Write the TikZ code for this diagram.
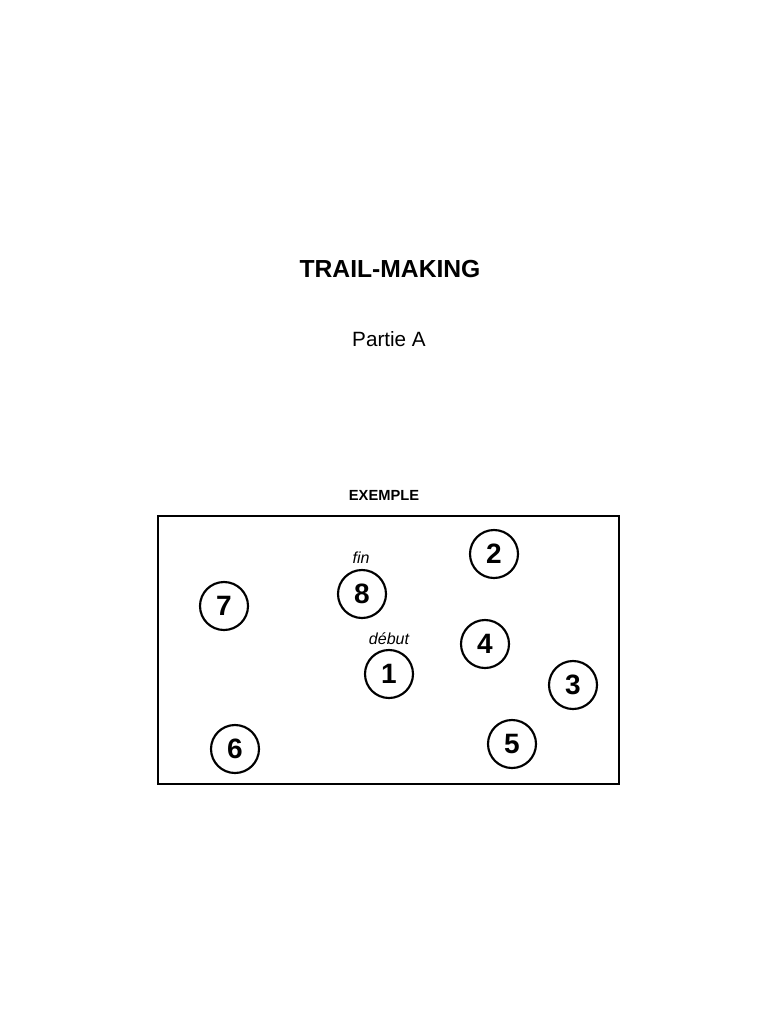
\documentclass[tikz,border=0pt]{standalone}
\usepackage{fontspec}
\setmainfont{Liberation Sans}
\begin{document}
\begin{tikzpicture}[x=0.75pt,y=-0.75pt,
  num/.style={circle,draw,line width=1.6pt,minimum size=36pt,inner sep=0pt,font=\fontsize{21}{21}\selectfont\bfseries},
  lbl/.style={font=\fontsize{12}{12}\selectfont\itshape}]
\useasboundingbox (0,0) rectangle (768,1024);
\node[font=\fontsize{18.5}{18.5}\selectfont\bfseries] (title) at (390,269) {TRAIL-MAKING};
\node[font=\fontsize{15.5}{15.5}\selectfont] (sub) at (389,339) {Partie A};
\node[font=\fontsize{11}{11}\selectfont\bfseries] (ex) at (384,495) {EXEMPLE};
\draw[line width=1.5pt] (158,516) rectangle (619,784);
\node[num] (n1) at (389,674) {1};
\node[num] (n2) at (494,554) {2};
\node[num] (n3) at (573,685) {3};
\node[num] (n4) at (485,644) {4};
\node[num] (n5) at (512,744) {5};
\node[num] (n6) at (235,749) {6};
\node[num] (n7) at (224,606) {7};
\node[num] (n8) at (362,594) {8};
\node[lbl] (fin) at (361,558) {fin};
\node[lbl] (debut) at (389,639) {début};
\end{tikzpicture}
\end{document}
